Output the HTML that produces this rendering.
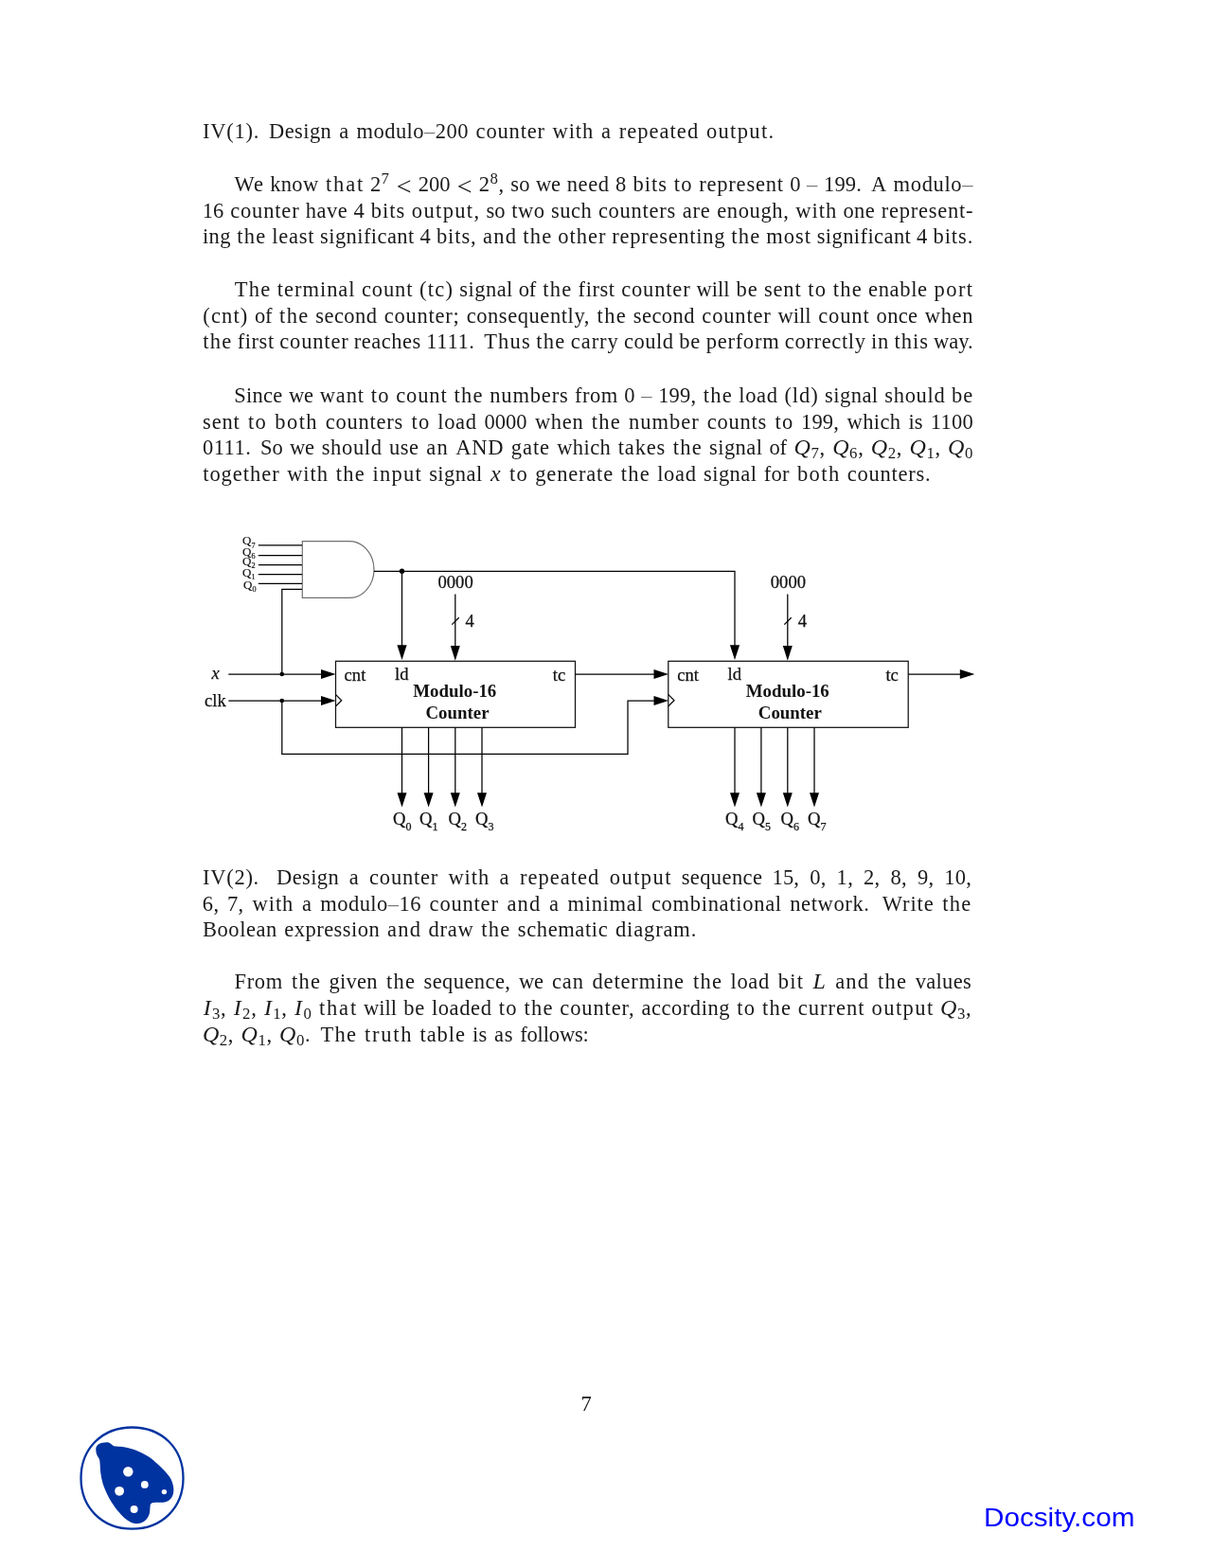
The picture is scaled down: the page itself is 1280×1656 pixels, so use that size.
<!DOCTYPE html>
<html lang="en">
<head>
<meta charset="utf-8">
<title>Modulo-200 counter</title>
<style>
html,body{margin:0;padding:0;background:#fff;}
body{width:1280px;height:1656px;overflow:hidden;}
#page{position:relative;width:1280px;height:1656px;background:#fff;overflow:hidden;
  font-family:"Liberation Serif",serif;font-size:22.5px;color:#1a1a1a;}
.ln{will-change:transform;position:absolute;left:0;width:1280px;height:28px;line-height:28px;white-space:pre;margin:0;}
.w{position:absolute;top:0;white-space:pre;line-height:28px;font-weight:normal;}
.mi{font-style:italic;font-size:24.0px;}
.sb{font-size:16.8px;}
.sp{font-size:16.8px;}
.nd{color:#777;}
.lt{font-size:28.0px;}
#diagram{will-change:transform;position:absolute;left:0;top:540px;}
#diagram text{font-family:"Liberation Serif",serif;fill:#111;}
#diagram .wr{fill:none;stroke:#000;stroke-width:1.25;}
#diagram .g{fill:none;stroke:#707070;stroke-width:1.2;}
#diagram .a{fill:#000;stroke:none;}
#diagram .t{font-size:18.6px;stroke:#111;stroke-width:0.25;}
#diagram .b{font-size:18.85px;font-weight:bold;}
#diagram .s{font-size:12px;}
#diagram .q{font-size:13px;stroke:#111;stroke-width:0.2;}
#diagram .qs{font-size:8.2px;}
#logo{position:absolute;left:70px;top:1490px;}
#brand{will-change:transform;position:absolute;left:1038.6px;top:1585.4px;font-family:"Liberation Sans",sans-serif;
  font-size:28.4px;line-height:34px;color:#0000ff;white-space:nowrap;transform:scaleX(1.045);transform-origin:0 0;}
</style>
</head>
<body>
<div id="page">
<div class="ln" id="l1" style="top:125px"><span class="w" style="left:214.07px;letter-spacing:0.750px">IV(1).</span> <span class="w" style="left:284.03px;letter-spacing:0.405px">Design</span> <span class="w" style="left:358.15px">a</span> <span class="w" style="left:376.53px;letter-spacing:0.457px">modulo<span class="nd">–</span>200</span> <span class="w" style="left:502.57px;letter-spacing:0.836px">counter</span> <span class="w" style="left:583.46px;letter-spacing:0.953px">with</span> <span class="w" style="left:634.96px">a</span> <span class="w" style="left:653.63px;letter-spacing:1.048px">repeated</span> <span class="w" style="left:745.88px;letter-spacing:1.356px">output.</span></div>
<div class="ln" id="l2" style="top:181px"><span class="w" style="left:247.57px;letter-spacing:0.942px">We</span> <span class="w" style="left:285.20px;letter-spacing:0.335px">know</span> <span class="w" style="left:343.95px;letter-spacing:1.894px">that</span> <span class="w" style="left:390.97px">2</span><sup class="w sp" style="left:402.60px;top:-5.60px">7</sup> <span class="w lt" style="left:418.63px;top:1.80px">&lt;</span> <span class="w" style="left:441.70px;letter-spacing:0.020px">200</span> <span class="w lt" style="left:482.77px;top:1.80px">&lt;</span> <span class="w" style="left:505.85px">2</span><sup class="w sp" style="left:517.48px;top:-5.60px">8</sup><span class="w" style="left:526.55px">,</span> <span class="w" style="left:539.34px;letter-spacing:0.072px">so</span> <span class="w" style="left:565.95px;letter-spacing:-0.291px">we</span> <span class="w" style="left:598.71px;letter-spacing:0.649px">need</span> <span class="w" style="left:650.11px">8</span> <span class="w" style="left:668.49px;letter-spacing:0.981px">bits</span> <span class="w" style="left:711.70px;letter-spacing:1.260px">to</span> <span class="w" style="left:738.14px;letter-spacing:0.814px">represent</span> <span class="w" style="left:834.16px">0</span> <span class="w" style="left:852.06px"><span class="nd">–</span></span> <span class="w" style="left:870.03px;letter-spacing:0.174px">199.</span> <span class="w" style="left:920.07px">A</span> <span class="w" style="left:943.60px;letter-spacing:0.645px">modulo<span class="nd">–</span></span></div>
<div class="ln" id="l3" style="top:209px"><span class="w" style="left:213.71px;letter-spacing:0.020px">16</span> <span class="w" style="left:243.15px;letter-spacing:0.836px">counter</span> <span class="w" style="left:322.78px;letter-spacing:0.492px">have</span> <span class="w" style="left:373.49px">4</span> <span class="w" style="left:391.73px;letter-spacing:0.981px">bits</span> <span class="w" style="left:434.84px;letter-spacing:1.356px">output,</span> <span class="w" style="left:513.53px;letter-spacing:0.072px">so</span> <span class="w" style="left:540.36px;letter-spacing:0.437px">two</span> <span class="w" style="left:581.95px;letter-spacing:0.519px">such</span> <span class="w" style="left:631.88px;letter-spacing:0.747px">counters</span> <span class="w" style="left:720.64px;letter-spacing:0.882px">are</span> <span class="w" style="left:757.13px;letter-spacing:0.645px">enough,</span> <span class="w" style="left:840.36px;letter-spacing:0.953px">with</span> <span class="w" style="left:890.42px;letter-spacing:0.437px">one</span> <span class="w" style="left:930.87px;letter-spacing:0.734px">represent-</span></div>
<div class="ln" id="l4" style="top:236px"><span class="w" style="left:213.91px;letter-spacing:0.430px">ing</span> <span class="w" style="left:250.25px;letter-spacing:1.269px">the</span> <span class="w" style="left:287.18px;letter-spacing:0.794px">least</span> <span class="w" style="left:338.05px;letter-spacing:0.427px">significant</span> <span class="w" style="left:443.39px">4</span> <span class="w" style="left:460.96px;letter-spacing:0.912px">bits,</span> <span class="w" style="left:510.04px;letter-spacing:1.272px">and</span> <span class="w" style="left:552.21px;letter-spacing:1.269px">the</span> <span class="w" style="left:589.26px;letter-spacing:1.034px">other</span> <span class="w" style="left:646.36px;letter-spacing:0.718px">representing</span> <span class="w" style="left:772.33px;letter-spacing:1.269px">the</span> <span class="w" style="left:809.36px;letter-spacing:0.986px">most</span> <span class="w" style="left:862.64px;letter-spacing:0.427px">significant</span> <span class="w" style="left:967.98px">4</span> <span class="w" style="left:985.55px;letter-spacing:0.912px">bits.</span></div>
<div class="ln" id="l5" style="top:292px"><span class="w" style="left:247.74px;letter-spacing:1.278px">The</span> <span class="w" style="left:292.82px;letter-spacing:0.966px">terminal</span> <span class="w" style="left:381.92px;letter-spacing:0.894px">count</span> <span class="w" style="left:443.01px;letter-spacing:1.270px">(tc)</span> <span class="w" style="left:485.34px;letter-spacing:0.454px">signal</span> <span class="w" style="left:547.86px;letter-spacing:-0.296px">of</span> <span class="w" style="left:573.22px;letter-spacing:1.269px">the</span> <span class="w" style="left:610.60px;letter-spacing:0.552px">first</span> <span class="w" style="left:656.17px;letter-spacing:0.836px">counter</span> <span class="w" style="left:735.50px;letter-spacing:0.012px">will</span> <span class="w" style="left:777.46px;letter-spacing:0.958px">be</span> <span class="w" style="left:806.98px;letter-spacing:0.830px">sent</span> <span class="w" style="left:853.19px;letter-spacing:1.260px">to</span> <span class="w" style="left:879.66px;letter-spacing:1.269px">the</span> <span class="w" style="left:917.07px;letter-spacing:0.649px">enable</span> <span class="w" style="left:986.51px;letter-spacing:1.441px">port</span></div>
<div class="ln" id="l6" style="top:320px"><span class="w" style="left:214.27px;letter-spacing:1.145px">(cnt)</span> <span class="w" style="left:268.97px;letter-spacing:-0.296px">of</span> <span class="w" style="left:295.12px;letter-spacing:1.269px">the</span> <span class="w" style="left:333.23px;letter-spacing:0.459px">second</span> <span class="w" style="left:405.82px;letter-spacing:0.733px">counter;</span> <span class="w" style="left:492.63px;letter-spacing:0.574px">consequently,</span> <span class="w" style="left:630.61px;letter-spacing:1.269px">the</span> <span class="w" style="left:668.72px;letter-spacing:0.459px">second</span> <span class="w" style="left:741.36px;letter-spacing:0.836px">counter</span> <span class="w" style="left:821.47px;letter-spacing:0.012px">will</span> <span class="w" style="left:864.19px;letter-spacing:0.894px">count</span> <span class="w" style="left:925.59px;letter-spacing:0.336px">once</span> <span class="w" style="left:976.78px;letter-spacing:0.648px">when</span></div>
<div class="ln" id="l7" style="top:347px"><span class="w" style="left:214.33px;letter-spacing:1.269px">the</span> <span class="w" style="left:250.71px;letter-spacing:0.552px">first</span> <span class="w" style="left:295.28px;letter-spacing:0.836px">counter</span> <span class="w" style="left:373.86px;letter-spacing:0.498px">reaches</span> <span class="w" style="left:450.29px;letter-spacing:0.643px">1111.</span> <span class="w" style="left:511.21px;letter-spacing:1.147px">Thus</span> <span class="w" style="left:566.28px;letter-spacing:1.269px">the</span> <span class="w" style="left:602.84px;letter-spacing:0.924px">carry</span> <span class="w" style="left:658.90px;letter-spacing:0.519px">could</span> <span class="w" style="left:717.14px;letter-spacing:0.958px">be</span> <span class="w" style="left:745.63px;letter-spacing:0.757px">perform</span> <span class="w" style="left:828.78px;letter-spacing:0.661px">correctly</span> <span class="w" style="left:920.09px;letter-spacing:0.635px">in</span> <span class="w" style="left:944.48px;letter-spacing:0.981px">this</span> <span class="w" style="left:985.89px;letter-spacing:0.073px">way.</span></div>
<div class="ln" id="l8" style="top:404px"><span class="w" style="left:247.23px;letter-spacing:0.268px">Since</span> <span class="w" style="left:304.94px;letter-spacing:-0.291px">we</span> <span class="w" style="left:337.80px;letter-spacing:0.802px">want</span> <span class="w" style="left:391.63px;letter-spacing:1.260px">to</span> <span class="w" style="left:418.13px;letter-spacing:0.894px">count</span> <span class="w" style="left:479.44px;letter-spacing:1.269px">the</span> <span class="w" style="left:517.18px;letter-spacing:0.852px">numbers</span> <span class="w" style="left:607.11px;letter-spacing:0.505px">from</span> <span class="w" style="left:659.28px">0</span> <span class="w" style="left:677.20px"><span class="nd">–</span></span> <span class="w" style="left:695.19px;letter-spacing:0.174px">199,</span> <span class="w" style="left:742.63px;letter-spacing:1.269px">the</span> <span class="w" style="left:780.27px;letter-spacing:0.644px">load</span> <span class="w" style="left:828.39px;letter-spacing:0.954px">(ld)</span> <span class="w" style="left:871.10px;letter-spacing:0.454px">signal</span> <span class="w" style="left:934.33px;letter-spacing:0.663px">should</span> <span class="w" style="left:1005.11px;letter-spacing:0.958px">be</span></div>
<div class="ln" id="l9" style="top:432px"><span class="w" style="left:214.11px;letter-spacing:0.830px">sent</span> <span class="w" style="left:262.04px;letter-spacing:1.260px">to</span> <span class="w" style="left:290.29px;letter-spacing:1.423px">both</span> <span class="w" style="left:343.80px;letter-spacing:0.747px">counters</span> <span class="w" style="left:434.41px;letter-spacing:1.260px">to</span> <span class="w" style="left:462.27px;letter-spacing:0.644px">load</span> <span class="w" style="left:511.43px;letter-spacing:0.020px">0000</span> <span class="w" style="left:564.96px;letter-spacing:0.648px">when</span> <span class="w" style="left:624.75px;letter-spacing:1.269px">the</span> <span class="w" style="left:664.05px;letter-spacing:0.973px">number</span> <span class="w" style="left:746.66px;letter-spacing:0.769px">counts</span> <span class="w" style="left:818.40px;letter-spacing:1.260px">to</span> <span class="w" style="left:846.03px;letter-spacing:0.174px">199,</span> <span class="w" style="left:894.51px;letter-spacing:0.395px">which</span> <span class="w" style="left:959.46px;letter-spacing:0.068px">is</span> <span class="w" style="left:982.83px;letter-spacing:0.227px">1100</span></div>
<div class="ln" id="l10" style="top:459px"><span class="w" style="left:213.94px;letter-spacing:0.475px">0111.</span> <span class="w" style="left:275.04px;letter-spacing:0.014px">So</span> <span class="w" style="left:306.10px;letter-spacing:-0.291px">we</span> <span class="w" style="left:339.67px;letter-spacing:0.663px">should</span> <span class="w" style="left:410.99px;letter-spacing:0.477px">use</span> <span class="w" style="left:450.23px;letter-spacing:1.272px">an</span> <span class="w" style="left:481.19px;letter-spacing:0.759px">AND</span> <span class="w" style="left:539.74px;letter-spacing:0.960px">gate</span> <span class="w" style="left:588.21px;letter-spacing:0.395px">which</span> <span class="w" style="left:652.81px;letter-spacing:0.796px">takes</span> <span class="w" style="left:710.68px;letter-spacing:1.269px">the</span> <span class="w" style="left:749.00px;letter-spacing:0.454px">signal</span> <span class="w" style="left:812.52px;letter-spacing:-0.296px">of</span> <i class="w mi" style="left:838.49px;top:-1.00px">Q</i><sub class="w sb" style="left:856.44px;top:6.20px">7</sub><span class="w" style="left:865.52px">,</span> <i class="w mi" style="left:879.14px;top:-1.00px">Q</i><sub class="w sb" style="left:897.09px;top:6.20px">6</sub><span class="w" style="left:906.17px">,</span> <i class="w mi" style="left:919.79px;top:-1.00px">Q</i><sub class="w sb" style="left:937.74px;top:6.20px">2</sub><span class="w" style="left:946.82px">,</span> <i class="w mi" style="left:960.44px;top:-1.00px">Q</i><sub class="w sb" style="left:978.39px;top:6.20px">1</sub><span class="w" style="left:987.47px">,</span> <i class="w mi" style="left:1001.09px;top:-1.00px">Q</i><sub class="w sb" style="left:1019.04px;top:6.20px">0</sub></div>
<div class="ln" id="l11" style="top:487px"><span class="w" style="left:214.18px;letter-spacing:0.967px">together</span> <span class="w" style="left:303.15px;letter-spacing:0.953px">with</span> <span class="w" style="left:354.65px;letter-spacing:1.269px">the</span> <span class="w" style="left:393.46px;letter-spacing:1.266px">input</span> <span class="w" style="left:453.17px;letter-spacing:0.454px">signal</span> <i class="w mi" style="left:518.04px;top:-1.00px">x</i> <span class="w" style="left:537.95px;letter-spacing:1.260px">to</span> <span class="w" style="left:565.28px;letter-spacing:0.813px">generate</span> <span class="w" style="left:655.73px;letter-spacing:1.269px">the</span> <span class="w" style="left:694.23px;letter-spacing:0.644px">load</span> <span class="w" style="left:742.97px;letter-spacing:0.454px">signal</span> <span class="w" style="left:806.86px;letter-spacing:0.246px">for</span> <span class="w" style="left:841.95px;letter-spacing:1.423px">both</span> <span class="w" style="left:894.82px;letter-spacing:0.734px">counters.</span></div>
<div class="ln" id="l12" style="top:913px"><span class="w" style="left:214.06px;letter-spacing:0.719px">IV(2).</span> <span class="w" style="left:292.11px;letter-spacing:0.371px">Design</span> <span class="w" style="left:368.77px">a</span> <span class="w" style="left:390.05px;letter-spacing:0.803px">counter</span> <span class="w" style="left:473.46px;letter-spacing:0.919px">with</span> <span class="w" style="left:527.58px">a</span> <span class="w" style="left:548.96px;letter-spacing:1.015px">repeated</span> <span class="w" style="left:643.76px;letter-spacing:1.442px">output</span> <span class="w" style="left:719.67px;letter-spacing:0.398px">sequence</span> <span class="w" style="left:815.46px;letter-spacing:0.196px">15,</span> <span class="w" style="left:855.18px;letter-spacing:0.301px">0,</span> <span class="w" style="left:883.61px;letter-spacing:0.301px">1,</span> <span class="w" style="left:912.04px;letter-spacing:0.301px">2,</span> <span class="w" style="left:940.48px;letter-spacing:0.301px">8,</span> <span class="w" style="left:968.91px;letter-spacing:0.301px">9,</span> <span class="w" style="left:997.29px;letter-spacing:0.196px">10,</span></div>
<div class="ln" id="l13" style="top:941px"><span class="w" style="left:213.85px;letter-spacing:0.301px">6,</span> <span class="w" style="left:240.05px;letter-spacing:0.301px">7,</span> <span class="w" style="left:266.56px;letter-spacing:0.919px">with</span> <span class="w" style="left:318.89px">a</span> <span class="w" style="left:338.22px;letter-spacing:0.469px">modulo<span class="nd">–</span>16</span> <span class="w" style="left:453.60px;letter-spacing:0.803px">counter</span> <span class="w" style="left:535.38px;letter-spacing:1.235px">and</span> <span class="w" style="left:580.06px">a</span> <span class="w" style="left:599.51px;letter-spacing:0.699px">minimal</span> <span class="w" style="left:687.88px;letter-spacing:0.710px">combinational</span> <span class="w" style="left:834.26px;letter-spacing:0.621px">network.</span> <span class="w" style="left:931.69px;letter-spacing:0.933px">Write</span> <span class="w" style="left:995.31px;letter-spacing:1.236px">the</span></div>
<div class="ln" id="l14" style="top:968px"><span class="w" style="left:213.98px;letter-spacing:0.568px">Boolean</span> <span class="w" style="left:300.37px;letter-spacing:0.457px">expression</span> <span class="w" style="left:409.06px;letter-spacing:1.235px">and</span> <span class="w" style="left:452.52px;letter-spacing:0.785px">draw</span> <span class="w" style="left:508.36px;letter-spacing:1.236px">the</span> <span class="w" style="left:546.76px;letter-spacing:0.628px">schematic</span> <span class="w" style="left:649.98px;letter-spacing:0.857px">diagram.</span></div>
<div class="ln" id="l15" style="top:1023px"><span class="w" style="left:247.45px;letter-spacing:0.698px">From</span> <span class="w" style="left:308.04px;letter-spacing:1.236px">the</span> <span class="w" style="left:347.52px;letter-spacing:0.236px">given</span> <span class="w" style="left:407.97px;letter-spacing:1.236px">the</span> <span class="w" style="left:447.53px;letter-spacing:0.422px">sequence,</span> <span class="w" style="left:548.12px;letter-spacing:-0.331px">we</span> <span class="w" style="left:583.05px;letter-spacing:0.824px">can</span> <span class="w" style="left:625.52px;letter-spacing:0.829px">determine</span> <span class="w" style="left:731.93px;letter-spacing:1.236px">the</span> <span class="w" style="left:771.59px;letter-spacing:0.612px">load</span> <span class="w" style="left:821.86px;letter-spacing:1.233px">bit</span> <i class="w mi" style="left:858.44px;top:-1.00px">L</i> <span class="w" style="left:882.15px;letter-spacing:1.235px">and</span> <span class="w" style="left:927.12px;letter-spacing:1.236px">the</span> <span class="w" style="left:966.64px;letter-spacing:0.323px">values</span></div>
<div class="ln" id="l16" style="top:1051px"><i class="w mi" style="left:214.64px;top:-1.00px">I</i><sub class="w sb" style="left:223.93px;top:6.20px">3</sub><span class="w" style="left:232.99px">,</span> <i class="w mi" style="left:246.80px;top:-1.00px">I</i><sub class="w sb" style="left:256.09px;top:6.20px">2</sub><span class="w" style="left:265.14px">,</span> <i class="w mi" style="left:278.95px;top:-1.00px">I</i><sub class="w sb" style="left:288.25px;top:6.20px">1</sub><span class="w" style="left:297.30px">,</span> <i class="w mi" style="left:311.11px;top:-1.00px">I</i><sub class="w sb" style="left:320.40px;top:6.20px">0</sub> <span class="w" style="left:336.88px;letter-spacing:1.862px">that</span> <span class="w" style="left:383.94px;letter-spacing:-0.015px">will</span> <span class="w" style="left:426.16px;letter-spacing:0.922px">be</span> <span class="w" style="left:455.90px;letter-spacing:0.614px">loaded</span> <span class="w" style="left:526.67px;letter-spacing:1.229px">to</span> <span class="w" style="left:553.45px;letter-spacing:1.236px">the</span> <span class="w" style="left:591.28px;letter-spacing:0.891px">counter,</span> <span class="w" style="left:677.38px;letter-spacing:0.552px">according</span> <span class="w" style="left:778.21px;letter-spacing:1.229px">to</span> <span class="w" style="left:804.98px;letter-spacing:1.236px">the</span> <span class="w" style="left:842.87px;letter-spacing:0.991px">current</span> <span class="w" style="left:920.55px;letter-spacing:1.442px">output</span> <i class="w mi" style="left:993.00px;top:-1.00px">Q</i><sub class="w sb" style="left:1010.91px;top:6.20px">3</sub><span class="w" style="left:1019.97px">,</span></div>
<div class="ln" id="l17" style="top:1079px"><i class="w mi" style="left:213.91px;top:-1.00px">Q</i><sub class="w sb" style="left:231.82px;top:6.20px">2</sub><span class="w" style="left:240.87px">,</span> <i class="w mi" style="left:254.51px;top:-1.00px">Q</i><sub class="w sb" style="left:272.42px;top:6.20px">1</sub><span class="w" style="left:281.47px">,</span> <i class="w mi" style="left:295.10px;top:-1.00px">Q</i><sub class="w sb" style="left:313.01px;top:6.20px">0</sub><span class="w" style="left:322.07px">.</span> <span class="w" style="left:338.60px;letter-spacing:1.238px">The</span> <span class="w" style="left:385.05px;letter-spacing:1.749px">truth</span> <span class="w" style="left:443.40px;letter-spacing:0.990px">table</span> <span class="w" style="left:499.11px;letter-spacing:0.044px">is</span> <span class="w" style="left:522.02px;letter-spacing:0.674px">as</span> <span class="w" style="left:549.19px;letter-spacing:-0.155px">follows:</span></div>
<div class="ln" id="pn" style="top:1469px"><span class="w" style="left:613.52px">7</span></div>
<svg id="diagram" width="1280" height="360" viewBox="0 540 1280 360">
<!-- AND gate -->
<path class="g" d="M319.3,571.6 H369 A26,29.9 0 0 1 369,631.4 H319.3 Z"/>
<!-- gate inputs -->
<path class="wr" d="M272.8,575.8 H319 M272.8,586.5 H319 M272.8,596.6 H319 M272.8,606.5 H319 M272.8,616.4 H319"/>
<path class="wr" d="M319,622.3 H297.8 V712"/>
<text class="q" x="256" y="575.4">Q<tspan class="qs" dy="3.4">7</tspan></text>
<text class="q" x="256" y="587">Q<tspan class="qs" dy="3.4">6</tspan></text>
<text class="q" x="256" y="597">Q<tspan class="qs" dy="3.4">2</tspan></text>
<text class="q" x="256" y="608.8">Q<tspan class="qs" dy="3.4">1</tspan></text>
<text class="q" x="257" y="621.5">Q<tspan class="qs" dy="3.4">0</tspan></text>
<!-- load line -->
<path class="wr" d="M395,603.3 H776 V683 M424.5,603.3 V683"/>
<circle cx="424.5" cy="603.2" r="2.7" fill="#000"/>
<path class="a" d="M419.4,681.3 H429.6 L424.5,697 Z M770.9,681.3 H781.1 L776,697 Z"/>
<!-- 0000 inputs -->
<text class="t" x="462.5" y="621">0000</text>
<text class="t" x="813.8" y="621">0000</text>
<path class="wr" d="M480.8,627.5 V683 M831.8,627.5 V683"/>
<path class="a" d="M475.8,682 H485.8 L480.8,697.8 Z M826.8,682 H836.8 L831.8,697.8 Z"/>
<path class="wr" d="M477.3,659.6 L484.7,652.2 M828.3,659.6 L835.7,652.2" style="stroke-width:1.3"/>
<text class="t" x="491.5" y="662.2">4</text>
<text class="t" x="842.8" y="662.2">4</text>
<!-- counter boxes -->
<rect class="wr" x="354.5" y="698.3" width="253" height="70" style="stroke:#111;stroke-width:1.25"/>
<rect class="wr" x="705.8" y="698.3" width="253.4" height="70" style="stroke:#111;stroke-width:1.25"/>
<path class="g" d="M354.4,733.4 L360.7,739.7 L354.4,746 M705.7,733.4 L712,739.7 L705.7,746" style="stroke:#111;stroke-width:1.3"/>
<!-- x / clk inputs -->
<text class="t" x="223.5" y="717.2" font-style="italic">x</text>
<text class="t" x="216" y="745.5">clk</text>
<path class="wr" d="M241.3,712 H340 M241.3,740 H340"/>
<circle cx="297.8" cy="712" r="2.3" fill="#000"/>
<circle cx="297.8" cy="740" r="2.3" fill="#000"/>
<path class="a" d="M339,707 V717 L354.5,712 Z M339,735 V745 L354.5,740 Z"/>
<path class="wr" d="M297.8,740 V796.3 H663 V740 H692"/>
<path class="a" d="M690.5,735 V745 L706,740 Z M690.5,707 V717 L706,712 Z"/>
<!-- tc lines -->
<path class="wr" d="M607.5,712 H692 M959.2,712 H1015"/>
<path class="a" d="M1013.8,707 V717 L1029.3,712 Z"/>
<!-- labels -->
<text class="t" x="363.6" y="718.8">cnt</text>
<text class="t" x="417" y="717.6">ld</text>
<text class="t" x="583.8" y="718.8">tc</text>
<text class="b" x="480.3" y="736" text-anchor="middle">Modulo-16</text>
<text class="b" x="483" y="759.4" text-anchor="middle">Counter</text>
<text class="t" x="715.3" y="718.8">cnt</text>
<text class="t" x="768.6" y="717.6">ld</text>
<text class="t" x="935.4" y="718.8">tc</text>
<text class="b" x="831.8" y="736" text-anchor="middle">Modulo-16</text>
<text class="b" x="834.3" y="759.4" text-anchor="middle">Counter</text>
<!-- outputs -->
<path class="wr" d="M424.5,768.3 V838 M452.6,768.3 V838 M480.8,768.3 V838 M509,768.3 V838"/>
<path class="wr" d="M776,768.3 V838 M803.9,768.3 V838 M831.8,768.3 V838 M860,768.3 V838"/>
<path class="a" d="M419.5,837.2 H429.5 L424.5,852.6 Z M447.6,837.2 H457.6 L452.6,852.6 Z M475.8,837.2 H485.8 L480.8,852.6 Z M504,837.2 H514 L509,852.6 Z"/>
<path class="a" d="M771,837.2 H781 L776,852.6 Z M798.9,837.2 H808.9 L803.9,852.6 Z M826.8,837.2 H836.8 L831.8,852.6 Z M855,837.2 H865 L860,852.6 Z"/>
<text class="t" x="415" y="871">Q<tspan class="s" dy="6.4">0</tspan></text>
<text class="t" x="443" y="871">Q<tspan class="s" dy="6.4">1</tspan></text>
<text class="t" x="473.5" y="871">Q<tspan class="s" dy="6.4">2</tspan></text>
<text class="t" x="502" y="871">Q<tspan class="s" dy="6.4">3</tspan></text>
<text class="t" x="766" y="871">Q<tspan class="s" dy="6.4">4</tspan></text>
<text class="t" x="794.5" y="871">Q<tspan class="s" dy="6.4">5</tspan></text>
<text class="t" x="824.5" y="871">Q<tspan class="s" dy="6.4">6</tspan></text>
<text class="t" x="853" y="871">Q<tspan class="s" dy="6.4">7</tspan></text>
</svg>
<svg id="logo" width="140" height="140" viewBox="70 1490 140 140">
<path d="M85.5,1561.1 C85.5,1529.7 107.9,1507.5 139.5,1507.5 C171.1,1507.5 193.5,1529.7 193.5,1561.1 C193.5,1592.5 171.1,1614.7 139.5,1614.7 C107.9,1614.7 85.5,1592.5 85.5,1561.1 Z" fill="#fff" stroke="#0033a0" stroke-width="2.3"/>
<path fill="#0033a0" d="M101.5,1528.5 C101.9,1527.4 102.6,1526.3 103.7,1525.5 C104.8,1524.7 106.4,1524.0 108.3,1523.7 C110.1,1523.3 112.9,1522.9 114.8,1523.5 C116.8,1524.0 117.8,1526.1 119.8,1526.9 C121.8,1527.6 124.2,1527.4 126.9,1527.7 C129.5,1528.1 132.3,1528.3 135.6,1529.2 C138.9,1530.0 142.9,1531.3 146.6,1532.9 C150.2,1534.5 154.2,1536.5 157.5,1538.7 C160.8,1540.9 163.5,1543.5 166.2,1546.0 C169.0,1548.5 171.6,1550.8 173.9,1553.4 C176.2,1556.0 178.7,1558.7 180.2,1561.6 C181.8,1564.6 182.8,1568.1 183.2,1570.9 C183.6,1573.7 183.3,1576.2 182.7,1578.4 C182.0,1580.5 180.8,1582.5 179.4,1583.8 C177.9,1585.2 176.0,1586.0 173.9,1586.5 C171.8,1586.9 168.9,1586.6 166.8,1586.7 C164.7,1586.8 162.7,1586.7 161.3,1587.1 C160.0,1587.5 158.8,1589.0 158.8,1589.0 C158.8,1589.0 158.5,1592.3 158.4,1593.9 C158.2,1595.5 158.3,1597.2 157.8,1598.8 C157.3,1600.5 156.5,1602.3 155.3,1603.8 C154.2,1605.2 152.8,1606.6 150.9,1607.5 C149.1,1608.4 146.6,1609.2 144.4,1609.2 C142.2,1609.2 140.0,1608.5 137.8,1607.5 C135.6,1606.4 133.4,1604.8 131.2,1602.9 C129.1,1601.0 126.9,1598.7 124.7,1596.1 C122.5,1593.5 120.1,1590.2 118.1,1587.1 C116.2,1584.0 114.5,1580.9 112.9,1577.5 C111.3,1574.1 109.6,1570.2 108.5,1566.6 C107.4,1562.9 106.8,1559.3 106.3,1555.6 C105.8,1552.0 105.8,1547.1 105.5,1544.7 C105.3,1542.2 105.3,1542.2 104.8,1540.9 C104.2,1539.5 102.8,1537.9 102.3,1536.5 C101.7,1535.0 101.4,1533.4 101.3,1532.1 C101.2,1530.8 101.1,1529.6 101.5,1528.5 Z"/>
<circle cx="135.3" cy="1554.3" r="5.2" fill="#fff"/>
<circle cx="152.8" cy="1567.9" r="3.9" fill="#fff"/>
<circle cx="126.1" cy="1574.8" r="4.9" fill="#fff"/>
<circle cx="173.4" cy="1575.6" r="2.7" fill="#fff"/>
<circle cx="141.6" cy="1594.1" r="4.0" fill="#fff"/>
</svg>
<div id="brand">Docsity.com</div>
</div>
</body>
</html>
